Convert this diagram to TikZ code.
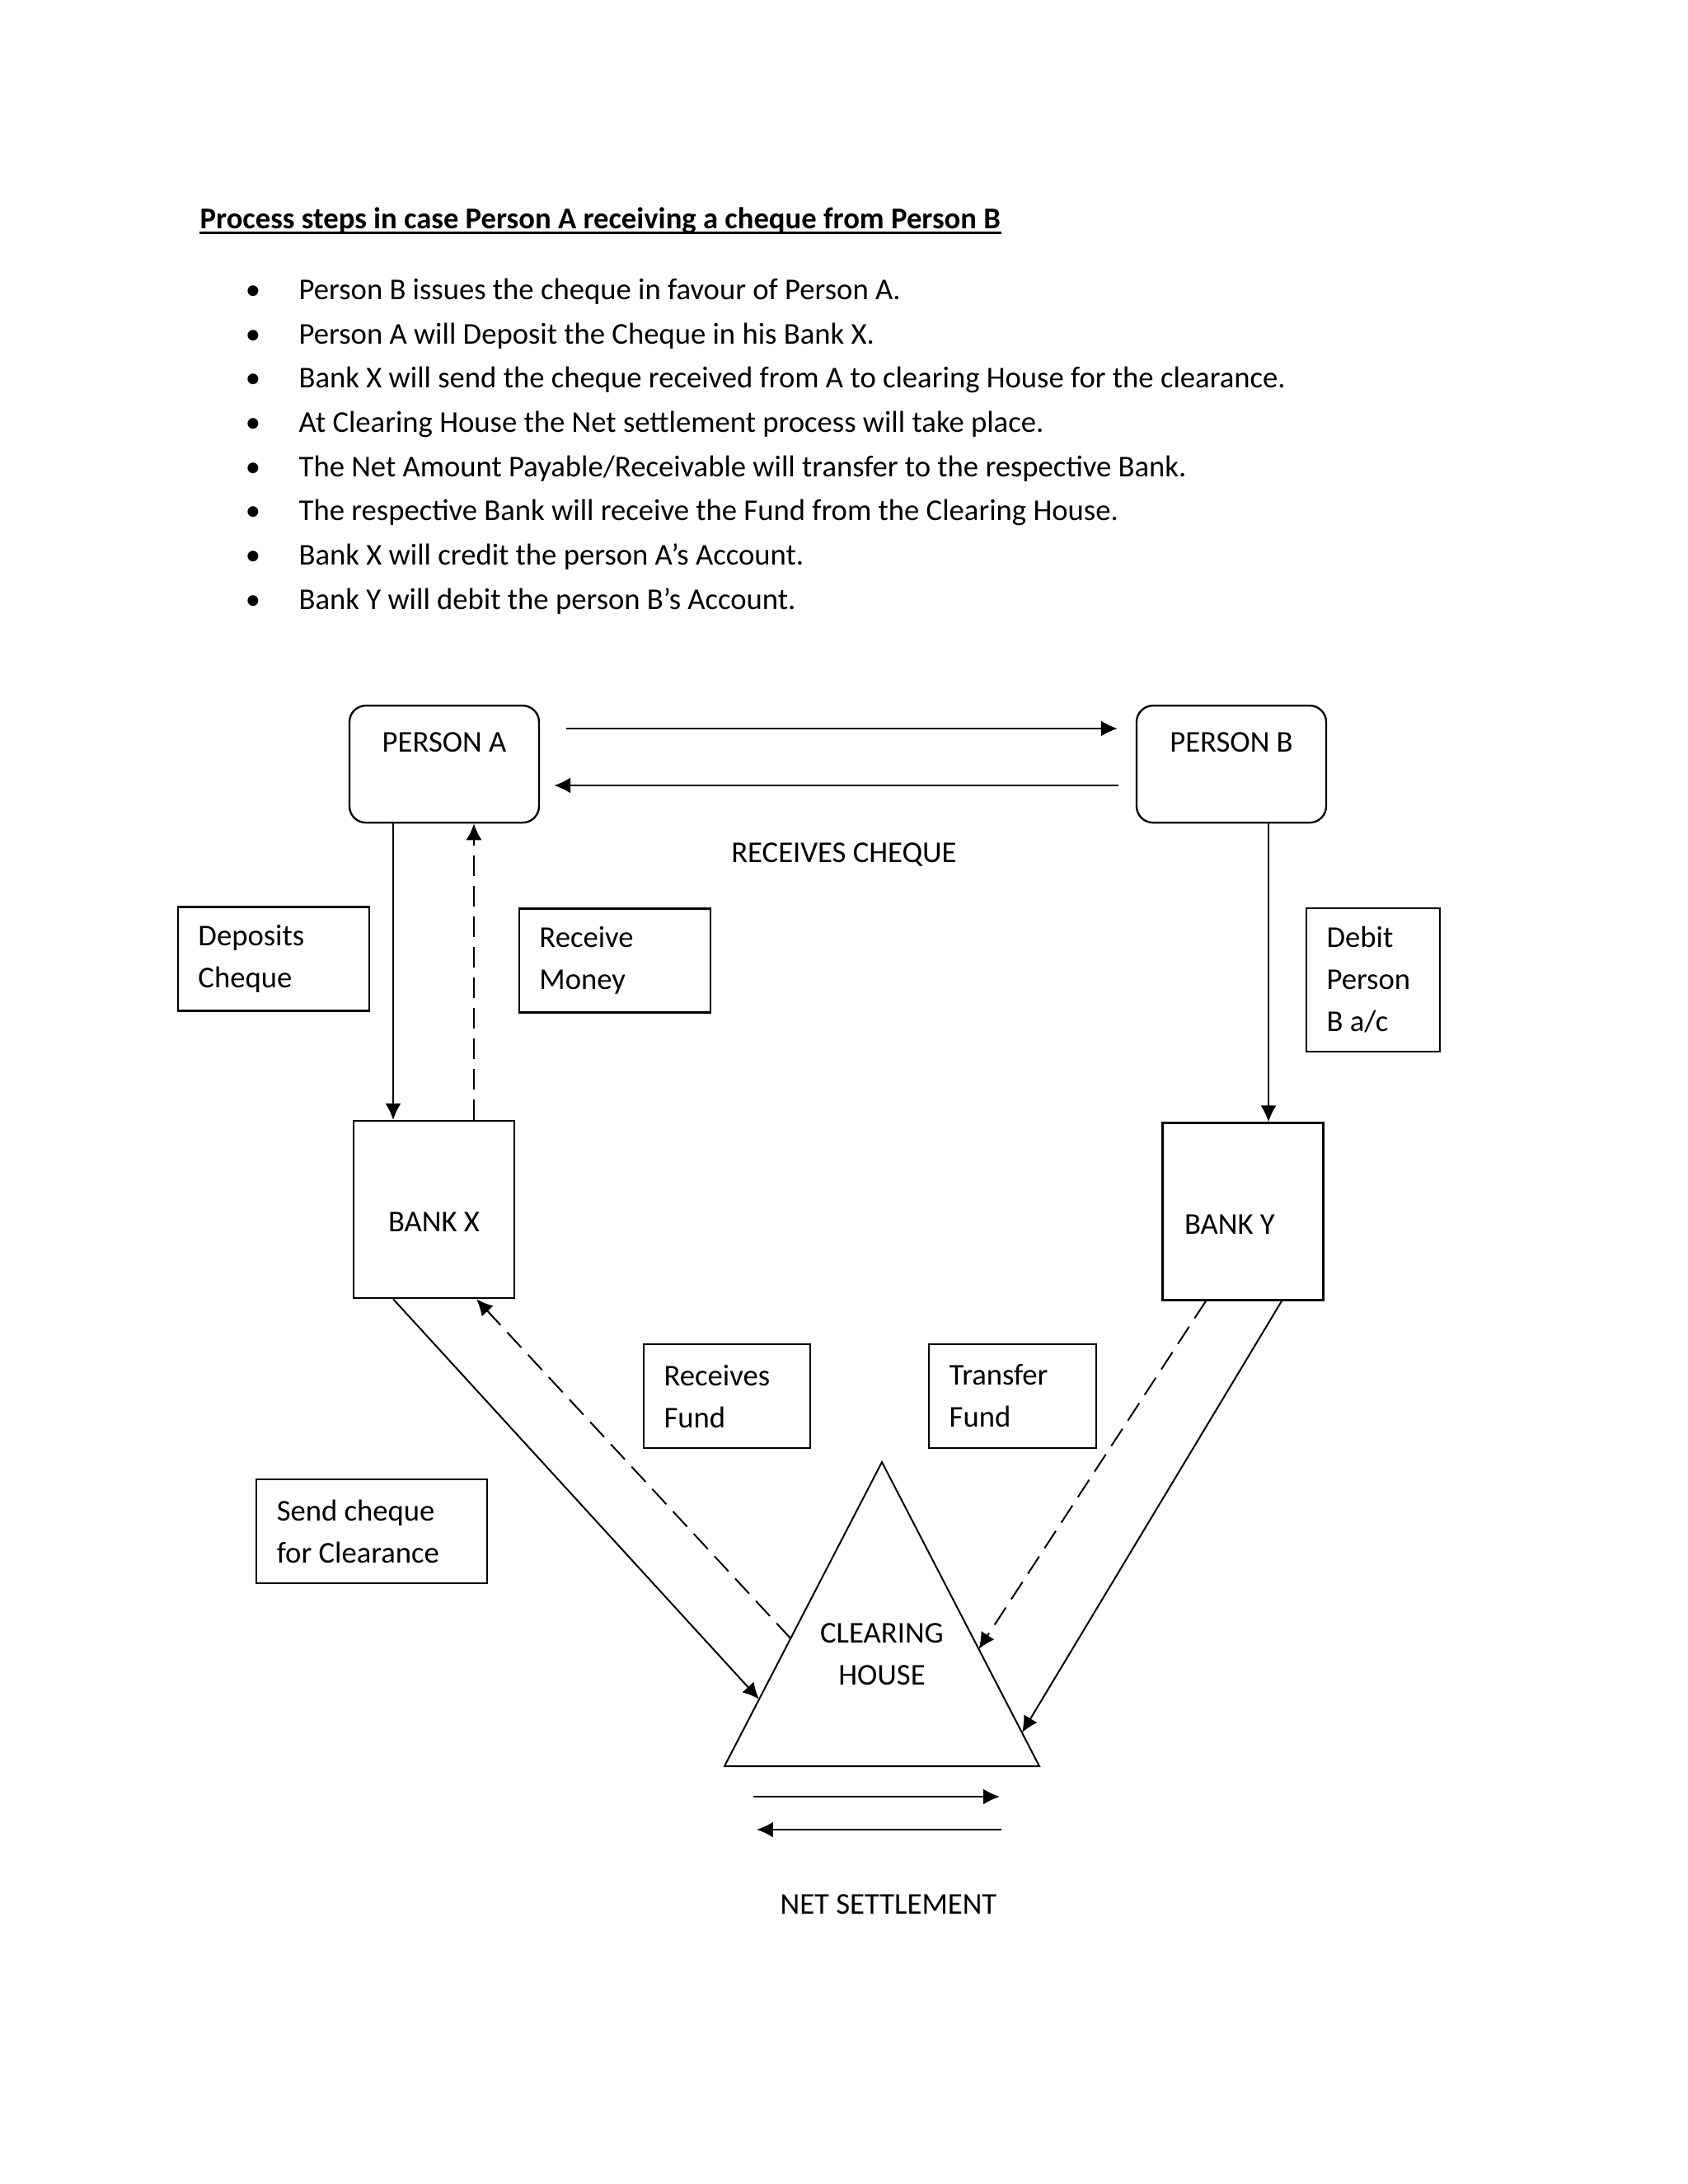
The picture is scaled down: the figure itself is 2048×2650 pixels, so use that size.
\documentclass[tikz,border=0pt]{standalone}
\usepackage{fontspec}
\setmainfont{Carlito}
\usetikzlibrary{arrows.meta, calc}

\begin{document}
\begin{tikzpicture}[
    x=0.010542cm, y=-0.010542cm,
    every node/.style={font=\fontsize{11}{15.3}\selectfont},
    person/.style={rectangle, draw, line width=0.7pt, rounded corners=0.21cm, minimum width=2.425cm, text height=0.25cm, text depth=0.567cm, inner ysep=0.34cm, anchor=north},
    bank/.style={rectangle, draw, line width=0.7pt, minimum width=2.056cm, minimum height=2.267cm, text height=0.57cm, text depth=0pt},
    note/.style={rectangle, draw, line width=0.7pt, align=flush left, text width=#1, inner xsep=0.26cm, inner ysep=0pt, minimum height=1.33cm},
    plain/.style={inner sep=0pt, anchor=base west},
    arrow/.style={-{Latex[length=2.1mm, width=2mm]}, line width=0.6pt},
    dasharrow/.style={arrow, dash pattern=on 7.5pt off 3.6pt},
]
    \useasboundingbox (0,0) rectangle (2048,2650);

    % Heading and steps
    \node[plain] (title) at (242,277) {\bfseries Process steps in case Person A receiving a cheque from Person B};
    \draw[line width=0.9pt] ($(title.base west)+(0,5)$) -- ($(title.base east)+(0,5)$);
    \node[plain] (s1) at (362,363) {\llap{\textbullet\hspace{0.49cm}}Person B issues the cheque in favour of Person A.};
    \node[plain] (s2) at (362,417) {\llap{\textbullet\hspace{0.49cm}}Person A will Deposit the Cheque in his Bank X.};
    \node[plain] (s3) at (362,470) {\llap{\textbullet\hspace{0.49cm}}Bank X will send the cheque received from A to clearing House for the clearance.};
    \node[plain] (s4) at (362,524) {\llap{\textbullet\hspace{0.49cm}}At Clearing House the Net settlement process will take place.};
    \node[plain] (s5) at (362,578) {\llap{\textbullet\hspace{0.49cm}}The Net Amount Payable/Receivable will transfer to the respective Bank.};
    \node[plain] (s6) at (362,631) {\llap{\textbullet\hspace{0.49cm}}The respective Bank will receive the Fund from the Clearing House.};
    \node[plain] (s7) at (362,685) {\llap{\textbullet\hspace{0.49cm}}Bank X will credit the person A’s Account.};
    \node[plain] (s8) at (362,739) {\llap{\textbullet\hspace{0.49cm}}Bank Y will debit the person B’s Account.};

    % Persons and banks
    \node[person] (pa) at (539,855) {PERSON A};
    \node[person] (pb) at (1494,855) {PERSON B};
    \node[bank] (bx) at (526.5,1467.5) {BANK X};
    \node[bank] (by) at (1508,1470) {BANK Y\kern0.34cm};

    % Clearing house
    \coordinate (apex) at (1070,1774);
    \coordinate (lc) at (879,2143);
    \coordinate (rc) at (1261,2143);
    \draw[line width=0.6pt] (lc) -- (apex) -- (rc) -- cycle;
    \node[align=center] (ch) at (1070,2007) {CLEARING\\HOUSE};

    % Notes
    \node[note=1.93cm] (dep) at (332,1163.5) {Deposits\\Cheque};
    \node[note=1.93cm] (rmoney) at (746,1165.5) {Receive\\Money};
    \node[note=1.19cm, minimum height=1.834cm] (debit) at (1666,1189) {Debit\\Person\\B a/c};
    \node[note=1.61cm] (rfund) at (882,1694) {Receives\\Fund};
    \node[note=1.62cm] (tfund) at (1228.5,1694) {Transfer\\Fund};
    \node[note=2.43cm] (sendchq) at (451,1858) {Send cheque\\for Clearance};
    \node (recv) at (1024,1037) {RECEIVES CHEQUE};
    \node (net) at (1078,2311) {NET SETTLEMENT};

    % Cheque between persons
    \draw[arrow] ($(pa.north east)+(32,29)$) -- ($(pb.north west)+(-22,29)$);
    \draw[arrow] ($(pb.north west)+(-21,98)$) -- ($(pa.north east)+(17,98)$);

    % Persons and banks
    \draw[arrow] ($(pa.south)+(-62,0)$) -- ($(bx.north)+(-49.5,0)$);
    \draw[dasharrow] ($(bx.north)+(48.5,0)$) -- ($(pa.south)+(36,0)$);
    \draw[arrow] ($(pb.south)+(45,0)$) -- ($(by.north)+(31,0)$);

    % Banks and clearing house
    \draw[arrow] ($(bx.south)+(-49.5,0)$) -- ($(lc)!0.22!(apex)$);
    \draw[dasharrow] ($(lc)!0.42!(apex)$) -- ($(bx.south)+(51.5,0)$);
    \draw[dasharrow] ($(by.south)+(-45,0)$) -- ($(rc)!0.385!(apex)$);
    \draw[arrow] ($(by.south)+(47,0)$) -- ($(rc)!0.11!(apex)$);

    % Net settlement
    \draw[arrow] ($(lc)+(35,37)$) -- ($(rc)+(-48,37)$);
    \draw[arrow] ($(rc)+(-46,77)$) -- ($(lc)+(39,77)$);
\end{tikzpicture}
\end{document}
